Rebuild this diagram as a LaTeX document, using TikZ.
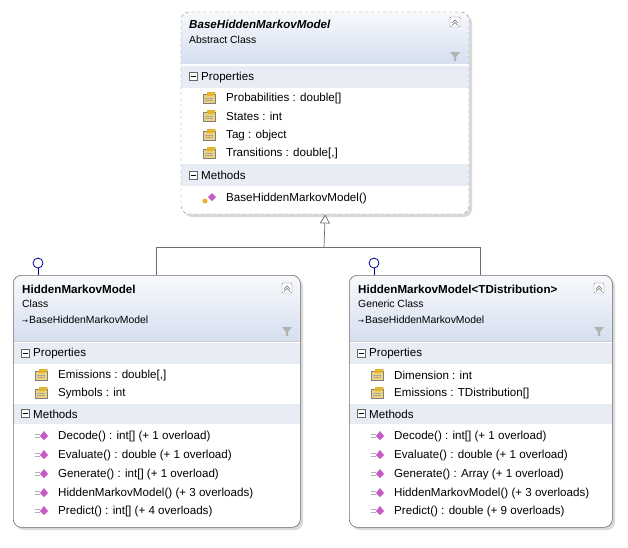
\documentclass[tikz,border=0pt]{standalone}
\usepackage{fontspec}
\setmainfont{Liberation Sans}
\usetikzlibrary{arrows.meta}
\definecolor{hdrA}{RGB}{247,249,252}
\definecolor{hdrB}{RGB}{214,223,240}
\definecolor{bar}{RGB}{232,236,244}
\definecolor{bord}{RGB}{110,110,110}
\definecolor{meth}{RGB}{200,90,200}
\definecolor{gold}{RGB}{230,180,40}
\tikzset{x=1pt,y=-1pt,
 txt/.style={anchor=west,inner sep=0pt,font=\fontsize{11.6}{13}\selectfont},
 ttl/.style={txt,font=\fontsize{11.6}{13}\selectfont\bfseries},
 sub/.style={txt,font=\fontsize{10.4}{12}\selectfont},
 link/.style={draw=bord,line width=0.7pt},
 lolli/.style={draw=blue!60!black,line width=0.8pt}}
\newcommand{\propicon}[2]{%
 \fill[gold!60,draw=gray] (#1-6,#2-4) rectangle (#1+6,#2+5);
 \draw[gray!70] (#1-4,#2) -- (#1+4,#2) (#1-4,#2+2.5) -- (#1+4,#2+2.5);
 \fill[gold] (#1-2,#2-6) -- (#1+7,#2-6) -- (#1+4,#2-2) -- (#1-2,#2-2) -- cycle;}
\newcommand{\methicon}[2]{%
 \draw[gray!60,line width=0.6pt] (#1-8,#2-1.5) -- (#1-3,#2-1.5) (#1-8,#2+1) -- (#1-3,#2+1);
 \fill[meth] (#1+1,#2-5) -- (#1+5,#2) -- (#1+1,#2+4) -- (#1-3,#2) -- cycle;}
\newcommand{\collapse}[2]{%
 \draw[gray,rounded corners=1pt,fill=white] (#1-5,#2-5) rectangle (#1+5,#2+5);
 \draw[gray!80!black] (#1-3,#2+1) -- (#1,#2-2) -- (#1+3,#2+1) (#1-3,#2+3.5) -- (#1,#2+0.5) -- (#1+3,#2+3.5);}
\newcommand{\filt}[2]{\fill[gray!60] (#1-5,#2-4) -- (#1+5,#2-4) -- (#1+1,#2+1) -- (#1+1,#2+5) -- (#1-1,#2+5) -- (#1-1,#2+1) -- cycle;}
\newcommand{\minus}[2]{\draw[gray!80!black,fill=white] (#1-4,#2-4) rectangle (#1+4,#2+4); \draw (#1-2.5,#2) -- (#1+2.5,#2);}
\begin{document}
\begin{tikzpicture}
\useasboundingbox[fill=white] (0,0) rectangle (628,547);
% ===== top box
\fill[gray!30,rounded corners=8pt] (184,15) rectangle (472,217);
\node[draw=none,rounded corners=8pt,minimum width=288pt,minimum height=202pt,anchor=north west,inner sep=0pt,fill=white] (base) at (181,12) {};
\begin{scope}
\clip[rounded corners=8pt] (181,12) rectangle (469,214);
\shade[top color=hdrA,bottom color=hdrB] (181,12) rectangle (469,63);
\fill[bar] (181,66) rectangle (469,88);
\fill[bar] (181,164) rectangle (469,186);
\end{scope}
\draw[gray,dashed,rounded corners=8pt] (181,12) rectangle (469,214);
\node[ttl,font=\fontsize{11.6}{13}\selectfont\bfseries\itshape] (bt) at (189,24) {BaseHiddenMarkovModel};
\node[sub] (bs) at (189,40) {Abstract Class};
\collapse{455}{22} \filt{455}{56}
\minus{193}{76} \node[txt] (bp) at (201,77) {Properties};
\propicon{209}{98} \node[txt] (b1) at (226,98) {Probabilities : double[]};
\propicon{209}{116} \node[txt] (b2) at (226,116) {States : int};
\propicon{209}{135} \node[txt] (b3) at (226,135) {Tag : object};
\propicon{209}{153} \node[txt] (b4) at (226,153) {Transitions : double[,]};
\minus{193}{175} \node[txt] (bm) at (201,175) {Methods};
\fill[gold] (205,201) circle (2.5); \fill[meth] (212,193) -- (216,197) -- (212,201) -- (208,197) -- cycle;
\node[txt] (b5) at (226,198) {BaseHiddenMarkovModel()};
% ===== left box
\fill[gray!30,rounded corners=8pt] (16,278) rectangle (303,530);
\begin{scope}
\clip[rounded corners=8pt] (13,275) rectangle (300,527);
\fill[white] (13,275) rectangle (300,527);
\shade[top color=hdrA,bottom color=hdrB] (13,275) rectangle (300,341);
\draw[gray!40] (13,341) -- (300,341);
\fill[bar] (13,343) rectangle (300,364);
\fill[bar] (13,404) rectangle (300,424);
\end{scope}
\node[draw=bord,rounded corners=8pt,minimum width=287pt,minimum height=252pt,anchor=north west,inner sep=0pt,line width=0.6pt] (hmm) at (13,275) {};
\node[ttl] (lt) at (22,289) {HiddenMarkovModel};
\node[sub] (ls) at (22,304) {Class};
\node[sub] (li) at (22,320) {\fontspec{DejaVu Sans}\fontsize{7}{8}\selectfont→\,\fontspec{Liberation Sans}\fontsize{10.4}{12}\selectfont BaseHiddenMarkovModel};
\collapse{287}{288} \filt{287}{331}
\minus{25}{353} \node[txt] (lp) at (33,353) {Properties};
\propicon{41}{375} \node[txt] (l1) at (58,375) {Emissions : double[,]};
\propicon{41}{393} \node[txt] (l2) at (58,393) {Symbols : int};
\minus{25}{413} \node[txt] (lm) at (33,414) {Methods};
\methicon{43}{436} \node[txt] (l3) at (58,436) {Decode() : int[] (+ 1 overload)};
\methicon{43}{455} \node[txt] (l4) at (58,455) {Evaluate() : double (+ 1 overload)};
\methicon{43}{474} \node[txt] (l5) at (58,474) {Generate() : int[] (+ 1 overload)};
\methicon{43}{493} \node[txt] (l6) at (58,493) {HiddenMarkovModel() (+ 3 overloads)};
\methicon{43}{511} \node[txt] (l7) at (58,511) {Predict() : int[] (+ 4 overloads)};
% ===== right box
\fill[gray!30,rounded corners=8pt] (352,278) rectangle (615,530);
\begin{scope}
\clip[rounded corners=8pt] (349,275) rectangle (612,527);
\fill[white] (349,275) rectangle (612,527);
\shade[top color=hdrA,bottom color=hdrB] (349,275) rectangle (612,341);
\draw[gray!40] (349,341) -- (612,341);
\fill[bar] (349,343) rectangle (612,364);
\fill[bar] (349,404) rectangle (612,424);
\end{scope}
\node[draw=bord,rounded corners=8pt,minimum width=263pt,minimum height=252pt,anchor=north west,inner sep=0pt,line width=0.6pt] (hmmg) at (349,275) {};
\node[ttl] (rt) at (358,289) {HiddenMarkovModel<TDistribution>};
\node[sub] (rs) at (358,304) {Generic Class};
\node[sub] (ri) at (358,320) {\fontspec{DejaVu Sans}\fontsize{7}{8}\selectfont→\,\fontspec{Liberation Sans}\fontsize{10.4}{12}\selectfont BaseHiddenMarkovModel};
\collapse{599}{288} \filt{599}{331}
\minus{361}{353} \node[txt] (rp) at (369,353) {Properties};
\propicon{377}{375} \node[txt] (r1) at (394,375) {Dimension : int};
\propicon{377}{393} \node[txt] (r2) at (394,393) {Emissions : TDistribution[]};
\minus{361}{413} \node[txt] (rm) at (369,414) {Methods};
\methicon{379}{436} \node[txt] (r3) at (394,436) {Decode() : int[] (+ 1 overload)};
\methicon{379}{455} \node[txt] (r4) at (394,455) {Evaluate() : double (+ 1 overload)};
\methicon{379}{474} \node[txt] (r5) at (394,474) {Generate() : Array (+ 1 overload)};
\methicon{379}{493} \node[txt] (r6) at (394,493) {HiddenMarkovModel() (+ 3 overloads)};
\methicon{379}{511} \node[txt] (r7) at (394,511) {Predict() : double (+ 9 overloads)};
% ===== inheritance
\coordinate (j) at (324,247);
\coordinate (jl) at (156,247);
\coordinate (jr) at (480,247);
\draw[link,-{Triangle[open,width=10pt,length=9pt]}] (j) -- (base.south);
\draw[link] (hmm.north -| jl) -- (jl) -- (jr) -- (hmmg.north -| jr);
% lollipops
\draw[lolli] (hmm.north -| 38,0) -- ++(0,-7);
\draw[lolli,fill=white] (38,263) circle (5);
\draw[lolli] (hmmg.north -| 374,0) -- ++(0,-7);
\draw[lolli,fill=white] (374,263) circle (5);
\end{tikzpicture}
\end{document}
